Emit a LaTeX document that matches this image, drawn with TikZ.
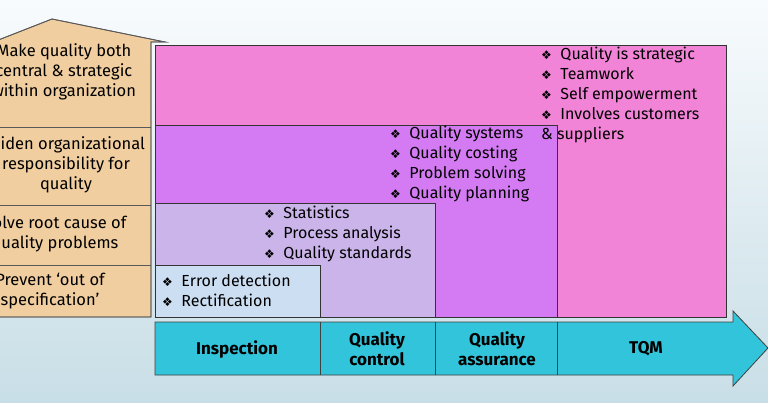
\documentclass[tikz,border=0pt]{standalone}
\usepackage{fontspec}
\setmainfont{Fira Sans}
\newfontfamily\symf{DejaVu Sans}
\begin{document}
\begin{tikzpicture}[x=1pt,y=-1pt,
  box/.style={draw=black!80, line width=0.8pt},
  tan/.style={fill={rgb,255:red,240;green,206;blue,160}, draw=black!65, line width=0.8pt},
  lst/.style={anchor=north west, align=left, font=\fontsize{16}{20}\selectfont, inner sep=0pt},
  lbl/.style={align=center, font=\fontsize{16.5}{20}\selectfont, inner sep=0pt},
  stage/.style={align=center, font=\bfseries\fontsize{17}{20}\selectfont, inner sep=0pt}]
\newcommand{\bul}{{\symf\fontsize{12}{12}\selectfont ❖}\ \ }
\useasboundingbox (0,0) rectangle (768,403);
\clip (0,0) rectangle (768,403);
\shade[top color={rgb,255:red,248;green,251;blue,253}, bottom color={rgb,255:red,200;green,222;blue,230}] (0,0) rectangle (768,403);
% house
\fill[tan] (-40,55) -- (52,19) -- (165,42) -- (151,42) -- (151,317) -- (-40,317) -- cycle;
\draw[black!65, line width=0.8pt] (-40,55) -- (52,19) -- (165,42) -- (151,42) -- (151,317) -- (-40,317);
\draw[black!65, line width=0.8pt] (-40,127) -- (151,127) (-40,205) -- (151,205) (-40,265) -- (151,265);
\node[lbl] (h1) at (64,72) {Make quality both\\central \& strategic\\within organization};
\node[lbl] (h2) at (66,165) {Widen organizational\\responsibility for\\quality};
\node[lbl] (h3) at (55,234) {Solve root cause of\\quality problems};
\node[lbl] (h4) at (50,291) {Prevent ‘out of\\specification’};
% boxes
\draw[box, fill={rgb,255:red,242;green,132;blue,216}] (155,45) rectangle (726,317);
\draw[box, fill={rgb,255:red,212;green,122;blue,242}] (155,125) rectangle (557,317);
\draw[box, fill={rgb,255:red,202;green,180;blue,234}] (155,203) rectangle (435,317);
\draw[box, fill={rgb,255:red,204;green,222;blue,242}] (155,265) rectangle (320,317);
\node[lst] (l4) at (541,47) {\bul Quality is strategic\\\bul Teamwork\\\bul Self empowerment\\\bul Involves customers\\\rlap{\& suppliers}};
\node[lst] (l3) at (390,126) {\bul Quality systems\\\bul Quality costing\\\bul Problem solving\\\bul Quality planning};
\node[lst] (l2) at (264,206) {\bul Statistics\\\bul Process analysis\\\bul Quality standards};
\node[lst] (l1) at (162,274) {\bul Error detection\\\bul Rectification};
% arrow
\draw[line width=0.8pt, draw=black!75, fill={rgb,255:red,50;green,196;blue,218}]
  (155,322) -- (733,322) -- (733,311) -- (768,348) -- (733,386) -- (733,375) -- (155,375) -- cycle;
\draw[line width=0.8pt, draw=black!75] (320,322) -- (320,375) (435,322) -- (435,375) (557,322) -- (557,375);
\node[stage] (s1) at (237,349) {Inspection};
\node[stage] (s2) at (377,349) {Quality\\control};
\node[stage] (s3) at (497,349) {Quality\\assurance};
\node[stage] (s4) at (646,349) {TQM};
\end{tikzpicture}
\end{document}
